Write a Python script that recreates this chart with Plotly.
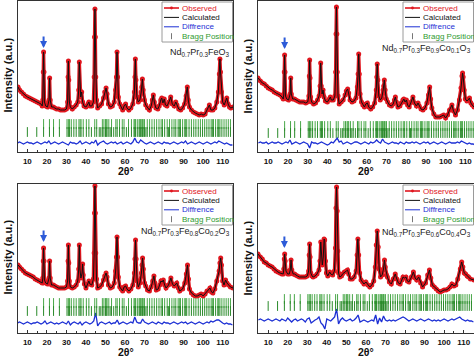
import plotly.graph_objects as go

W, H = 474, 357

# ---------------- data (2theta in degrees, intensity in arbitrary units) ----------------
compositions = ["Nd<sub>0.7</sub>Pr<sub>0.3</sub>FeO<sub>3</sub>",
                "Nd<sub>0.7</sub>Pr<sub>0.3</sub>Fe<sub>0.9</sub>Co<sub>0.1</sub>O<sub>3</sub>",
                "Nd<sub>0.7</sub>Pr<sub>0.3</sub>Fe<sub>0.8</sub>Co<sub>0.2</sub>O<sub>3</sub>",
                "Nd<sub>0.7</sub>Pr<sub>0.3</sub>Fe<sub>0.6</sub>Co<sub>0.4</sub>O<sub>3</sub>"]
legend_labels = ["Observed", "Calculated", "Diffrence", "Bragg Position"]
x_ticks = [10, 20, 30, 40, 50, 60, 70, 80, 90, 100, 110]

obs1 = [(5.2,65),(6,62),(7,60),(8,58),(9,56),(10,55),(11,54),(12,53),(13,52),(14,51),(15,50),(16,49),(17,48),(17.6,46),
        (17.9,52),(18.15,80),(18.3,100),(18.5,80),(18.75,50),(19.4,46),(20.3,45),
        (21.1,52),(21.4,74),(21.7,52),(22.4,45),(23.3,45),(24,44),(25,43),(26,43),(27,42),(28,42),(29,42),(30,43),
        (30.6,50),(30.85,75),(31,91),(31.2,72),(31.5,50),(32,45),(33,43),(34,45),(35,47),(35.8,50),
        (36.3,62),(36.6,90),(36.9,62),(37.3,55),(37.8,60),(38.3,50),(39,46),(40,45),(41,48),(41.5,50),(42,46),(43,46),(43.8,50),
        (44.2,75),(44.4,115),(44.6,143),(44.8,115),(45.0,75),(45.4,52),
        (46,44),(47,46),(48,48),(49,54),(49.6,60),(50.3,64),(50.8,58),(51.5,48),(52.5,45),(53.5,46),(54.5,50),(55.2,62),
        (55.6,75),(55.9,100),(56.2,75),(56.6,55),(57.3,48),(58,45),(58.8,42),(59.5,46),(60.3,48),(61,44),(62,42),(63,44),(64,48),(64.8,60),
        (65.1,75),(65.3,93),(65.6,72),(66.1,55),(66.8,50),(67.6,52),(68.3,60),(68.6,65),(68.9,73),(69.3,62),(69.9,52),
        (70.6,47),(71.5,44),(72.5,42),(73.4,46),(74,52),(74.5,57),(75,50),(75.8,44),(76.8,43),(77.5,46),(78.3,52),(78.8,54),(79.4,49),
        (80.1,53),(80.7,47),(81.5,46),(82.5,50),(83.4,55),(84.2,48),(85.2,46),(86,50),(86.6,47),(87.5,43),(88.5,42),(89.5,44),(90.5,48),
        (91.3,56),(91.9,65),(92.4,52),(93,45),(94,42),(95,40),(96,39),(97,38),(98,37),(99,38),(100,37),(101,38),(102,42),(103.2,47),
        (104,42),(105,42),(106,44),(107,50),(107.8,60),(108.3,78),(108.6,93),(108.9,80),(109.4,60),
        (110,50),(110.8,47),(111.5,50),(112.1,54),(112.8,48),(113.5,45),(114.2,44),(115.3,45)]

obs2 = [(4.8,74),(6,71),(7,69),(8,68),(9,66),(10,64),(11,63),(12,62),(13,60),(14,59),(15,58),(16,57),(17,55),(17.6,53),
        (17.9,58),(18.15,80),(18.3,97),(18.5,80),(18.75,56),(19.4,53),(20.3,52),
        (21.1,58),(21.4,74),(21.7,58),(22.4,53),(23.3,53),(24,52),(25,51),(26,50),(27,50),(28,50),(29,49),(30,50),
        (30.6,56),(30.85,76),(31,92),(31.2,74),(31.5,55),(32,50),(33,48),(34,49),(35,52),(35.8,56),
        (36.3,66),(36.6,89),(36.9,66),(37.3,58),(37.8,62),(38.3,55),(39,51),(40,50),(41,53),(41.5,55),(42,52),(43,52),(43.8,56),
        (44.2,80),(44.4,118),(44.6,145),(44.8,118),(45.0,80),(45.4,56),
        (46,48),(47,50),(48,52),(49,57),(49.6,61),(50.3,63),(50.8,59),(51.5,52),(52.5,50),(53.5,51),(54.5,54),(55.2,65),
        (55.6,78),(55.9,98),(56.2,78),(56.6,58),(57.3,50),(58,47),(58.8,45),(59.5,48),(60.3,49),(61,45),(62,43),(63,45),(64,49),(64.8,62),
        (65.1,75),(65.3,88),(65.6,72),(66.1,56),(66.8,52),(67.6,54),(68.3,62),(68.6,66),(68.9,72),(69.3,62),(69.9,53),
        (70.6,50),(71.5,47),(72.5,46),(73.4,48),(74,52),(74.5,55),(75,50),(75.8,45),(76.8,46),(77.5,49),(78.3,52),(78.8,53),(79.4,50),
        (80.1,52),(80.7,47),(81.5,45),(82.5,50),(83.4,55),(84.2,49),(85.2,46),(86,49),(86.6,46),(87.5,43),(88.5,42),(89.5,44),(90.5,49),
        (91.3,57),(91.9,65),(92.4,53),(93,44),(94,38),(95,35),(96,35),(97,35),(98,36),(99,37),(100,34),(101,37),(102,42),(103.2,47),
        (104,41),(105,37),(106,42),(107,52),(107.8,64),(108.3,76),(108.6,79),(108.9,75),(109.4,62),
        (110,53),(110.8,51),(111.5,52),(112.1,54),(112.8,49),(113.5,47),(114.4,45)]

obs3 = [(5.2,68),(6,66),(7,64),(8,62),(9,60),(10,59),(11,58),(12,57),(13,56),(14,54),(15,53),(16,52),(17,51),(17.6,50),
        (17.9,55),(18.15,72),(18.3,85),(18.5,72),(18.75,53),(19.4,50),(20.3,49),
        (21.1,55),(21.4,72),(21.7,55),(22.4,48),(23.3,48),(24,47),(25,46),(26,45),(27,45),(28,45),(29,45),(30,46),
        (30.6,52),(30.85,72),(31,88),(31.2,70),(31.5,52),(32,46),(33,45),(34,46),(35,48),(35.8,52),
        (36.3,64),(36.6,88),(36.9,64),(37.4,55),(38.0,60),(38.3,69),(38.6,58),(39.2,49),(40,45),(41,49),(41.5,52),(42,49),(43,48),(43.8,54),
        (44.2,80),(44.4,120),(44.6,147),(44.8,120),(45.0,80),(45.4,54),
        (46,45),(47,46),(48,48),(49,53),(49.6,57),(50.3,60),(50.8,56),(51.5,48),(52.5,45),(53.5,46),(54.5,50),(55.2,62),
        (55.6,76),(55.9,96),(56.2,76),(56.6,56),(57.3,46),(58,44),(58.8,42),(59.5,46),(60.3,47),(61,44),(62,42),(63,44),(64,48),(64.8,60),
        (65.1,74),(65.4,93),(65.7,74),(66.2,52),(66.8,46),(67.6,50),(68.4,60),(68.7,68),(69.0,75),(69.4,64),(70,50),
        (70.6,47),(71.5,43),(72.5,42),(73.4,46),(74.2,52),(74.8,57),(75.3,50),(76,43),(77,44),(77.8,48),(78.4,52),(79,51),(79.6,53),
        (80.3,48),(81,45),(82.3,48),(83.5,55),(84.3,49),(85.2,47),(86.5,50),(87.3,45),(88,42),(89.5,44),(90.6,50),
        (91.4,59),(92,68),(92.5,54),(93,44),(94,40),(95,38),(96,37),(97,37),(98,38),(99,39),(100,37),(101,39),(102,42),(103.5,45),
        (104.3,41),(105,40),(106,44),(107,52),(108.2,62),(108.6,70),(109.0,75),(109.4,68),(110,52),
        (110.7,48),(111.5,53),(112.2,50),(113,48),(114,46),(115.3,45)]

obs4 = [(4.8,79),(6,76),(7,74),(8,71),(9,70),(10,68),(11,67),(12,66),(13,64),(14,62),(15,61),(16,60),(17,59),(17.7,59),
        (18.0,64),(18.25,74),(18.45,79),(18.7,72),(19.1,62),(20,59),(20.8,59),
        (21.3,63),(21.7,73),(22.1,63),(22.8,59),(23.5,59),(24,58),(25,57),(26,56),(27,56),(28,56),(29,56),(30,57),
        (30.7,62),(31.0,78),(31.2,89),(31.45,76),(31.8,60),(32.5,57),(33,56),(34,57),(35,59),(36,63),
        (36.5,72),(36.9,91),(37.3,72),(37.7,68),(38.2,76),(38.6,94),(38.9,93),(39.3,72),(39.8,60),
        (40.5,57),(41,59),(41.5,61),(42,59),(43,58),(43.9,62),
        (44.4,85),(44.7,125),(45.0,146),(45.3,122),(45.6,82),(46,60),
        (46.6,56),(47.5,57),(48,59),(49,61),(50,62),(50.6,63),(51.2,59),(52,54),(53,54),(54,56),(55,62),
        (55.5,78),(55.9,94),(56.3,78),(56.8,60),(57.5,53),(58.3,51),(59,49),(60,51),(61,48),(62,46),(63,48),(64,52),(64.8,66),
        (65.3,88),(65.8,102),(66.3,86),(66.8,64),(67.5,56),(68.3,58),(69,64),(69.5,73),(69.9,66),(70.5,58),
        (71,56),(72,51),(73,49),(74,54),(75,59),(75.8,54),(76.6,50),(77.5,49),(78.4,53),(79,56),(79.7,55),(80.5,56),(81.2,52),
        (82,51),(83.3,56),(84.3,61),(85.2,55),(86,53),(87,56),(88,50),(89,46),(90.5,50),(91.6,58),(92.5,63),(93.2,55),
        (94,48),(95,46),(96,44),(97,42),(98,41),(99,42),(100,43),(101,43),(102,44),(103,46),(104,49),(105,47),(106,48),
        (107,54),(108.3,64),(109,71),(109.6,66),(110.3,60),(111,59),(111.8,57),(112.5,56),(113.5,54),(115.3,53)]

# difference curves, one value per degree from 5 to 115
diff_x = list(range(5, 116))
diff1 = [9,10,9,8,9,10,9,9,8,9, 10,9,8,9,10,9,11,8,9,10, 9,8,9,10,9,8,7,10,9,9,
         8,9,11,8,9,10,9,8,10,9, 12,7,9,10,11,9,8,9,10,9, 10,8,9,10,8,9,10,9,8,10,
         14,10,9,12,10,9,8,9,10,9, 8,9,10,9,8,10,9,9,8,9, 10,9,8,9,10,9,11,8,9,10,
         9,8,9,10,9,8,9,10,9,8, 9,10,9,11,10,9,8,9,8,7,7]
diff2 = [9,10,9,9,10,8,9,10,9,9, 10,9,8,9,10,9,12,8,9,10, 9,8,9,10,9,8,4,10,9,9,
         8,9,10,9,8,7,8,10,9,11, 14,10,11,8,9,10,9,8,9,10, 10,9,8,9,10,9,8,10,9,10,
         12,10,9,13,10,9,8,9,10,9, 9,8,10,9,8,10,9,9,10,9, 10,9,8,9,10,9,10,8,9,10,
         9,8,9,10,9,8,9,10,9,9, 9,10,9,11,10,9,8,9,8,8,7]
diff3 = [10,11,10,9,10,11,10,9,10,10, 11,10,9,10,12,9,10,11,10,9, 10,9,10,11,10,9,12,8,10,11,
         10,9,11,8,10,11,10,9,10,12, 20,7,10,11,10,9,10,11,9,10, 10,13,9,10,11,10,9,10,11,10,
         16,11,10,10,14,11,10,9,10,11, 10,9,11,10,9,11,10,10,9,10, 11,10,9,10,11,10,11,9,10,11,
         10,9,10,11,10,9,10,11,10,12, 11,12,13,13,11,10,9,10,9,9,8]
diff4 = [13,14,13,12,13,14,13,12,13,14, 13,12,14,13,12,15,13,11,13,14, 12,13,14,13,11,14,15,10,12,13,
         14,16,10,8,4,14,13,12,14,16, 24,9,13,15,13,12,13,14,12,13, 15,18,11,12,13,12,11,12,13,12,
         18,9,15,11,17,13,12,13,12,13, 12,13,14,15,16,15,13,12,13,14, 13,12,13,14,13,12,13,14,13,12,
         13,12,13,12,13,14,13,12,13,14, 13,14,15,16,14,13,12,13,12,12,11]

bragg_upper = [18.3, 21.3, 23.4, 26.4, 30.3, 31.0, 31.6, 32.5, 33.8, 35.0, 36.4, 37.0, 37.5, 38.6, 40.2, 41.5, 44.5, 45.5,
               48.4, 49.2, 50.0, 50.4, 50.8, 51.7, 53.1, 55.3, 56.0, 57.2, 58.6, 59.5, 61.8, 63.3, 64.6, 65.0, 65.4, 66.3,
               67.2, 67.6, 68.0, 68.6, 69.0, 69.3, 70.0, 71.4, 72.6, 73.8, 75.0, 76.2, 77.4, 78.5, 79.2, 80.3, 81.6, 82.8,
               84.0, 85.1, 86.0, 87.2, 87.8, 88.4, 89.5, 90.6, 91.1, 91.6, 92.8, 94.0, 95.2, 96.3, 97.5, 98.6, 99.7, 100.8,
               101.9, 103.0, 104.1, 104.7, 105.3, 106.4, 107.5, 108.0, 108.6, 109.6, 110.7, 111.8, 112.9, 114.0]
bragg_lower = [10.0, 14.8, 18.3, 21.3, 23.4, 26.4, 30.3, 31.0, 31.6, 32.5, 33.8, 35.0, 36.4, 37.0, 37.5, 38.6, 40.2, 41.5,
               42.8, 44.5, 45.5, 46.8, 47.6, 48.4, 49.2, 50.0, 50.4, 50.8, 51.7, 52.4, 53.1, 54.2, 55.3, 56.0, 57.2, 58.6,
               59.5, 60.7, 61.8, 63.3, 64.6, 65.0, 65.4, 66.3, 67.2, 67.6, 68.0, 68.6, 69.0, 69.3, 70.0, 70.7, 71.4, 72.6, 73.8,
               75.0, 76.2, 77.4, 78.5, 79.2, 80.3, 81.6, 82.2, 82.8, 84.0, 85.1, 86.0, 87.2, 87.8, 88.4, 89.5, 90.6, 91.1, 91.6,
               92.8, 94.0, 95.2, 96.3, 97.5, 98.6, 99.7, 100.8, 101.9, 103.0, 104.1, 104.7, 105.3, 106.4, 107.5, 108.0, 108.6,
               109.6, 110.7, 111.8, 112.9, 114.0]
arrow_2theta = 18.3

observed = [obs1, obs2, obs3, obs4]
differences = [diff1, diff2, diff3, diff4]

# ---------------- layout / style ----------------
RED = "#e0161e"
BLACK = "#111111"
BLUE = "#1c2fd4"
GREEN = "#2f9a2f"
FRAME = "#333333"
FONT = "Arial, Liberation Sans, sans-serif"

def fx(p):
    return p / W

def fy(p):
    return 1 - p / H

# pixel boxes of each panel: left, right, top, bottom, x range
panels = [
    dict(l=18, r=233, t=1, b=152, xr=[5.2, 115.3], upper=28, lower=20, arrow=104, ft=51),
    dict(l=258, r=474, t=1, b=152, xr=[4.8, 114.4], upper=26, lower=19, arrow=103, ft=48),
    dict(l=18, r=233, t=184, b=333, xr=[5.2, 115.3], upper=30, lower=22, arrow=91, ft=230),
    dict(l=258, r=474, t=184, b=333, xr=[4.8, 115.3], upper=34, lower=27, arrow=85, ft=231),
]

fig = go.Figure()
layout = dict(width=W, height=H, margin=dict(l=0, r=0, t=0, b=0),
              paper_bgcolor="white", plot_bgcolor="white", showlegend=False,
              font=dict(family=FONT, color="#111"))
annotations = []
shapes = []

for i, p in enumerate(panels):
    k = "" if i == 0 else str(i + 1)
    xa, ya = "x" + k, "y" + k
    ox = [v[0] for v in observed[i]]
    oy = [v[1] for v in observed[i]]
    fig.add_trace(go.Scatter(x=ox, y=oy, mode="lines+markers", xaxis=xa, yaxis=ya,
                             line=dict(color=RED, width=3.4),
                             marker=dict(color=RED, size=5), name="Observed"))
    fig.add_trace(go.Scatter(x=ox, y=oy, mode="lines", xaxis=xa, yaxis=ya,
                             line=dict(color=BLACK, width=1), name="Calculated"))
    fig.add_trace(go.Scatter(x=diff_x, y=differences[i], mode="lines", xaxis=xa, yaxis=ya,
                             line=dict(color=BLUE, width=1.3), name="Diffrence"))
    fig.add_trace(go.Scatter(x=bragg_upper, y=[p["upper"]] * len(bragg_upper), mode="markers",
                             xaxis=xa, yaxis=ya, name="Bragg Position",
                             marker=dict(symbol="line-ns", size=7, color=GREEN,
                                         line=dict(width=1, color="#4aa84a"))))
    fig.add_trace(go.Scatter(x=bragg_lower, y=[p["lower"]] * len(bragg_lower), mode="markers",
                             xaxis=xa, yaxis=ya, name="Bragg Position",
                             marker=dict(symbol="line-ns", size=7, color=GREEN,
                                         line=dict(width=1, color="#2a8a2a"))))

    height = p["b"] - p["t"]
    layout["xaxis" + k] = dict(domain=[fx(p["l"]), fx(p["r"])], range=p["xr"], anchor=ya,
                               showline=True, mirror=True, linecolor=FRAME, linewidth=1,
                               ticks="inside", ticklen=3, tickcolor=FRAME, tickvals=x_ticks,
                               minor=dict(ticks="inside", ticklen=2, dtick=5, tick0=5, tickcolor=FRAME),
                               tickfont=dict(size=8, family=FONT, weight="bold", color="#111"),
                               showgrid=False, zeroline=False, ticklabelstandoff=1)
    layout["yaxis" + k] = dict(domain=[fy(p["b"]), fy(p["t"])], range=[0, height], anchor=xa,
                               showline=True, mirror=True, linecolor=FRAME, linewidth=1,
                               showticklabels=False, ticks="", showgrid=False, zeroline=False)

    # arrow marking the first peak
    annotations.append(dict(x=arrow_2theta, y=p["arrow"], xref=xa, yref=ya, text="",
                            showarrow=True, ax=0, ay=-13, arrowhead=2, arrowsize=0.7,
                            arrowwidth=2, arrowcolor="#2d5bd8"))
    # axis titles
    annotations.append(dict(x=fx(p["l"] - 11), y=fy((p["t"] + p["b"]) / 2 - 1), xref="paper", yref="paper",
                            text="<b>Intensity (a.u.)</b>", textangle=-90, showarrow=False,
                            xanchor="center", yanchor="middle",
                            font=dict(size=11, family=FONT, color="#111")))
    annotations.append(dict(x=fx((p["l"] + p["r"]) / 2), y=fy(p["b"] + 19), xref="paper", yref="paper",
                            text="<b>2θ°</b>", showarrow=False, xanchor="center", yanchor="middle",
                            font=dict(size=10.5, family=FONT, color="#111")))
    # composition label
    annotations.append(dict(x=fx(p["r"] - 1.5), y=fy(p["ft"] + 1), xref="paper", yref="paper",
                            text=compositions[i], showarrow=False, xanchor="right", yanchor="middle",
                            font=dict(size=9, family=FONT, color="#222")))

    # manual legend box
    lx0 = p["r"] - 71
    ly0 = p["t"] + 1
    shapes.append(dict(type="rect", xref="paper", yref="paper",
                       x0=fx(lx0), x1=fx(p["r"] - 0.5), y0=fy(ly0 + 40), y1=fy(ly0),
                       line=dict(color="#9a9a9a", width=1), fillcolor="white", layer="above"))
    colors = [RED, BLACK, BLUE, GREEN]
    for j, lab in enumerate(legend_labels):
        yy = ly0 + 6 + j * 9.4
        sx0, sx1 = lx0 + 2, lx0 + 17
        if j < 3:
            shapes.append(dict(type="line", xref="paper", yref="paper",
                               x0=fx(sx0), x1=fx(sx1), y0=fy(yy), y1=fy(yy),
                               line=dict(color=colors[j], width=1.6 if j == 0 else 1)))
        if j == 0:
            shapes.append(dict(type="circle", xref="paper", yref="paper",
                               x0=fx((sx0 + sx1) / 2 - 1.4), x1=fx((sx0 + sx1) / 2 + 1.4),
                               y0=fy(yy + 1.4), y1=fy(yy - 1.4),
                               fillcolor=RED, line=dict(color=RED, width=0)))
        if j == 3:
            shapes.append(dict(type="line", xref="paper", yref="paper",
                               x0=fx((sx0 + sx1) / 2), x1=fx((sx0 + sx1) / 2), y0=fy(yy + 3), y1=fy(yy - 3),
                               line=dict(color="#777777", width=1)))
        annotations.append(dict(x=fx(lx0 + 18), y=fy(yy), xref="paper", yref="paper",
                                text=lab, showarrow=False, xanchor="left", yanchor="middle",
                                font=dict(size=8, family=FONT, color=colors[j])))

layout["annotations"] = annotations
layout["shapes"] = shapes
fig.update_layout(**layout)
fig.write_html("out.html", config={"displayModeBar": False},
               post_script="document.body.style.margin='0';document.body.style.overflow='hidden';")
